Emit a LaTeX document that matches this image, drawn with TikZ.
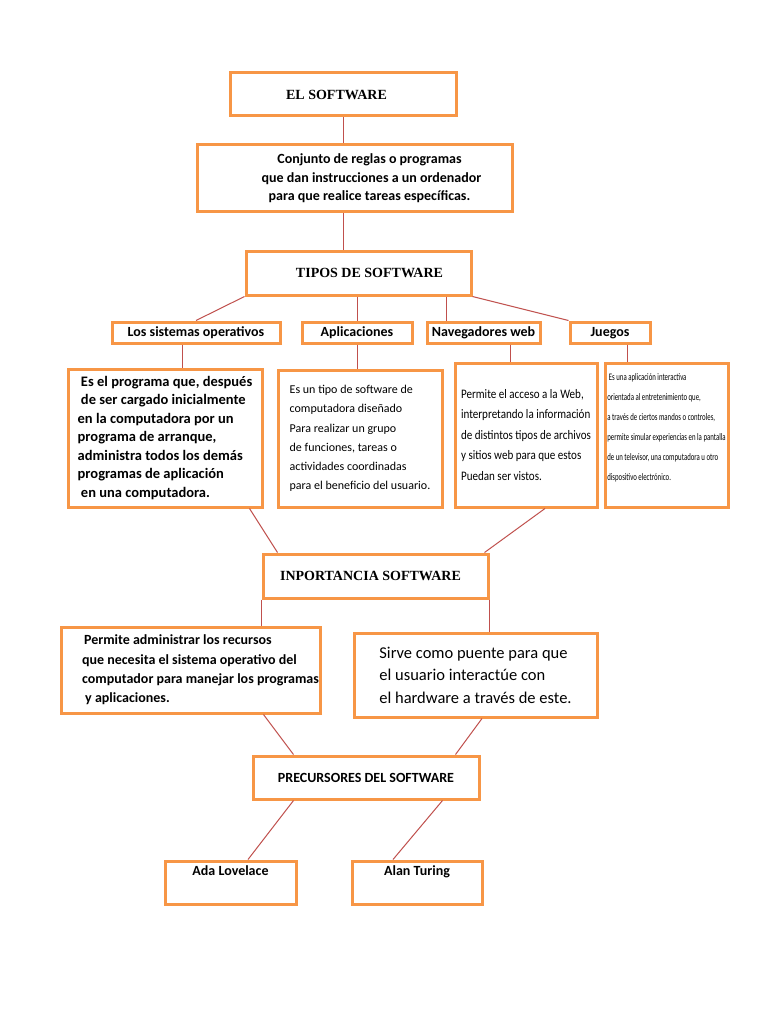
\documentclass[tikz,border=0pt]{standalone}
\usepackage{fontspec}
\setmainfont{Carlito}
\newfontfamily\headfont{Liberation Serif}
\newfontfamily\narrowfont[FakeStretch=0.85]{Carlito}
\newfontfamily\tightfont[FakeStretch=0.68]{Carlito}
\usepackage{tikz}
\definecolor{boxorange}{RGB}{247,150,70}
\definecolor{linkred}{RGB}{192,80,77}

\begin{document}
\begin{tikzpicture}[x=1pt, y=-1pt,
          box/.style={draw=boxorange, line width=3pt, fill=white,
                      inner sep=0pt, align=center,
                      font=\bfseries\fontsize{14}{18.5}\selectfont},
          headbox/.style={box, font=\headfont\bfseries\fontsize{14}{17}\selectfont},
          tagbox/.style={box, minimum height=21, text height=10, text depth=3},
          desc/.style={box, align=left},
          link/.style={draw=linkred, line width=1pt}]
  \path[fill=white] (0,0) rectangle (768,1024);

  % top of the map
  \node[headbox, minimum width=226, minimum height=43] (el) at (343.5,94.5)
    {EL SOFTWARE\hspace*{14pt}};
  \node[box, minimum width=315, minimum height=67] (conj) at (354.5,178.5) {%
    \hspace*{30pt}Conjunto de reglas o programas\\
    \hspace*{34pt}que dan instrucciones a un ordenador\\
    \hspace*{30pt}para que realice tareas específicas.};
  \node[headbox, minimum width=225, minimum height=44] (tipos) at (358.5,273)
    {\hspace*{22pt}TIPOS DE SOFTWARE};

  % the four kinds
  \node[tagbox, minimum width=168] (sis) at (196,332.5) {Los sistemas operativos};
  \node[tagbox, minimum width=110] (apl) at (357,332.5) {Aplicaciones};
  \node[tagbox, minimum width=113] (nav) at (483.5,332.5) {Navegadores web};
  \node[tagbox, minimum width=80] (jue) at (610,332.5) {Juegos};

  \node[desc, minimum width=194, minimum height=138,
        font=\bfseries\fontsize{14.5}{18.5}\selectfont] (dsis) at (165,438) {%
    \ Es el programa que, después\\
    \ de ser cargado inicialmente\\
    en la computadora por un\\
    programa de arranque,\\
    administra todos los demás\\
    programas de aplicación\\
    \ en una computadora.};
  \node[desc, minimum width=164, minimum height=137,
        font=\fontsize{12}{19.2}\selectfont] (dapl) at (360,438.5) {%
    Es un tipo de software de\\
    computadora diseñado\\
    Para realizar un grupo\\
    de funciones, tareas o\\
    actividades coordinadas\\
    para el beneficio del usuario.};
  \node[desc, minimum width=142, minimum height=144,
        font=\narrowfont\fontsize{13}{20.5}\selectfont] (dnav) at (526,435) {%
    Permite el acceso a la Web,\\
    interpretando la información\\
    de distintos tipos de archivos\\
    y sitios web para que estos\\
    Puedan ser vistos.};
  \node[desc, minimum width=123, minimum height=144,
        font=\tightfont\fontsize{10}{20}\selectfont] (djue) at (666.5,435) {%
    \ Es una aplicación interactiva\\
    orientada al entretenimiento que,\\
    a través de ciertos mandos o controles,\\
    permite simular experiencias en la pantalla\\
    de un televisor, una computadora u otro\\
    dispositivo electrónico.\\[-4pt]~};

  % importance
  \node[headbox, minimum width=225, minimum height=44] (imp) at (375.5,576)
    {INPORTANCIA SOFTWARE\hspace*{10pt}};
  \node[desc, minimum width=259, minimum height=86,
        font=\bfseries\fontsize{14}{19.3}\selectfont] (adm) at (190.5,670) {%
    \hspace*{22pt}Permite administrar los recursos\\
    \hspace*{20pt}que necesita el sistema operativo del\\
    \hspace*{20pt}computador para manejar los programas\\
    \hspace*{20pt}\ y aplicaciones.};
  \node[desc, minimum width=243, minimum height=84,
        font=\fontsize{16.5}{22.5}\selectfont] (sirve) at (475.5,675) {%
    Sirve como puente para que\\
    el usuario interactúe con\\
    el hardware a través de este.};

  % forerunners
  \node[box, minimum width=226, minimum height=43] (pre) at (366,777.5)
    {PRECURSORES DEL SOFTWARE};
  \node[box, minimum width=131, minimum height=43] (ada) at (230.5,882.5)
    {Ada Lovelace\\[6pt]~};
  \node[box, minimum width=130, minimum height=43] (alan) at (417,882.5)
    {Alan Turing\\[6pt]~};

  \draw[link] (el.south) -- (el.south |- conj.north);
  \draw[link] (el.south |- conj.south) -- (el.south |- tipos.north);
  \draw[link] (tipos.south west) -- (sis.north);
  \draw[link] (apl.north |- tipos.south) -- (apl.north);
  \coordinate (navin) at ([xshift=21pt]nav.north west);
  \draw[link] (navin |- tipos.south) -- (navin);
  \draw[link] (tipos.south east) -- (jue.north west);

  \coordinate (sisout) at ([xshift=-14pt]sis.south);
  \draw[link] (sisout) -- (sisout |- dsis.north);
  \draw[link] (apl.south) -- (apl.south |- dapl.north);
  \coordinate (navout) at ([xshift=27pt]nav.south);
  \draw[link] (navout) -- (navout |- dnav.north);
  \coordinate (jueout) at ([xshift=17pt]jue.south);
  \draw[link] (jueout) -- (jueout |- djue.north);

  \draw[link] ([xshift=-14pt]dsis.south east) -- ([xshift=16pt]imp.north west);
  \draw[link] ([xshift=19pt]dnav.south) -- ([xshift=-5pt]imp.north east);
  \draw[link] (imp.south west) -- (imp.south west |- adm.north);
  \draw[link] (imp.south east) -- (imp.south east |- sirve.north);

  \draw[link] ([xshift=-58pt]adm.south east) -- ([xshift=42pt]pre.north west);
  \draw[link] ([xshift=6.5pt]sirve.south) -- ([xshift=-25pt]pre.north east);
  \draw[link] ([xshift=42pt]pre.south west) -- ([xshift=17.5pt]ada.north);
  \draw[link] ([xshift=-38pt]pre.south east) -- ([xshift=-24pt]alan.north);
\end{tikzpicture}
\end{document}
